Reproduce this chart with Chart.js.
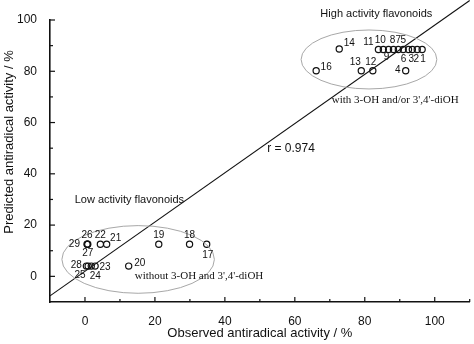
<!DOCTYPE html>
<html>
<head>
<meta charset="utf-8">
<script src="https://cdn.jsdelivr.net/npm/chart.js@4.4.1/dist/chart.umd.min.js"></script>
<style>
    html, body { margin: 0; padding: 0; background: #fff; }
    #chart { display: block; }
</style>
</head>
<body>
<canvas id="chart" width="474" height="344"></canvas>
<script>

// compound numbers with observed / predicted antiradical activity (%)
const compoundIds = [1, 2, 3, 4, 5, 6, 7, 8, 9, 10, 11, 12, 13, 14, 16,
                     17, 18, 19, 20, 21, 22, 23, 24, 25, 26, 27, 28, 29];
const observed = [96.4, 95.0, 93.6, 91.7, 91.0, 92.5, 89.6, 88.2, 86.8, 85.3, 83.9, 82.3, 79.0, 72.7, 66.1,
                  34.8, 29.9, 21.1, 12.5, 6.2, 4.4, 2.9, 1.8, 0.9, 0.6, 0.8, 0.4, 0.7];
const predicted = [88.5, 88.5, 88.5, 80.2, 88.5, 88.5, 88.5, 88.5, 88.5, 88.5, 88.5, 80.2, 80.2, 88.7, 80.2,
                   12.5, 12.5, 12.5, 4.0, 12.5, 12.5, 4.0, 4.0, 4.0, 12.5, 12.5, 4.0, 12.5];

// regression line end points
const fitX = [-10, 110];
const fitY = [-7.6, 107.6];

const xTickValues = [0, 20, 40, 60, 80, 100];
const yTickValues = [0, 20, 40, 60, 80, 100];

const xTitle = 'Observed antiradical activity / %';
const yTitle = 'Predicted antiradical activity / %';

// where each number label sits relative to its circle (px)
const labelOffsets = {
    1: [1, 10], 2: [-1, 10], 3: [-1, 10], 4: [-8, -1], 5: [0, -9], 6: [-5, 10], 7: [0, -9],
    8: [-1, -9], 9: [-2, 8], 10: [-3, -9], 11: [-10, -7], 12: [-2, -9], 13: [-6, -9],
    14: [10, -6], 16: [10, -4], 17: [1, 11], 18: [0, -9], 19: [0, -9], 20: [11, -3],
    21: [9, -6], 22: [0, -9], 23: [10, 1], 24: [4, 10], 25: [-8, 9], 26: [0, -9],
    27: [0, 9], 28: [-10, -1], 29: [-13, 0]
};

const groups = [
    { cx: 81.2, cy: 84.6, rx: 19.4, ry: 11.5 },
    { cx: 15.2, cy: 6.6, rx: 21.8, ry: 13.2 }
];

const notes = [
    { text: 'High activity flavonoids', x: 83.3, y: 102.4, font: '11px "Liberation Sans", Arial, sans-serif' },
    { text: "with 3-OH and/or 3',4'-diOH", x: 88.7, y: 68.9, font: '11px "Liberation Serif", "Times New Roman", serif' },
    { text: 'Low activity flavonoids', x: 12.7, y: 29.8, font: '11px "Liberation Sans", Arial, sans-serif' },
    { text: "without 3-OH and 3',4'-diOH", x: 32.6, y: 0.2, font: '11px "Liberation Serif", "Times New Roman", serif' },
    { text: 'r = 0.974', x: 58.9, y: 49.7, font: '12px "Liberation Sans", Arial, sans-serif' }
];

const sans = '"Liberation Sans", Arial, sans-serif';

const points = compoundIds.map((id, i) => ({ x: observed[i], y: predicted[i], id: id }));
const fitLine = fitX.map((x, i) => ({ x: x, y: fitY[i] }));

const data = {
    datasets: [
        {
            label: 'Flavonoids',
            type: 'scatter',
            data: points,
            borderColor: '#111',
            backgroundColor: 'rgba(255,255,255,0)',
            pointRadius: 3.1, pointBorderWidth: 1.2, pointHoverRadius: 3.1
        },
        {
            label: 'Fit',
            type: 'line',
            data: fitLine,
            borderColor: '#111',
            borderWidth: 1.1,
            pointRadius: 0,
            fill: false,
            clip: false
        }
    ]
};

const background = {
    id: 'background',
    beforeDraw: (chart) => {
        const ctx = chart.ctx;
        ctx.save();
        ctx.fillStyle = '#fff';
        ctx.fillRect(0, 0, chart.width, chart.height);
        ctx.restore();
    }
};

const decorations = {
    id: 'decorations',
    afterDatasetsDraw: (chart) => {
        const ctx = chart.ctx;
        const xs = chart.scales.x;
        const ys = chart.scales.y;
        const area = chart.chartArea;
        ctx.save();

        // inward tick marks
        ctx.strokeStyle = '#111';
        ctx.lineWidth = 1.2;
        for (let v = 0; v <= 110; v += 10) {
            const px = xs.getPixelForValue(v);
            const len = v % 20 === 0 ? 5 : 3;
            ctx.beginPath();
            ctx.moveTo(px, area.bottom);
            ctx.lineTo(px, area.bottom - len);
            ctx.stroke();
        }
        for (let v = 0; v <= 100; v += 10) {
            const py = ys.getPixelForValue(v);
            const len = v % 20 === 0 ? 5 : 3;
            ctx.beginPath();
            ctx.moveTo(area.left, py);
            ctx.lineTo(area.left + len, py);
            ctx.stroke();
        }

        // group ellipses
        ctx.strokeStyle = '#a8a8a8';
        ctx.lineWidth = 1;
        groups.forEach(g => {
            const cx = xs.getPixelForValue(g.cx);
            const cy = ys.getPixelForValue(g.cy);
            const rx = Math.abs(xs.getPixelForValue(g.cx + g.rx) - cx);
            const ry = Math.abs(ys.getPixelForValue(g.cy + g.ry) - cy);
            ctx.beginPath();
            ctx.ellipse(cx, cy, rx, ry, 0, 0, Math.PI * 2);
            ctx.stroke();
        });

        // compound numbers
        ctx.fillStyle = '#111';
        ctx.font = '10px ' + sans;
        ctx.textAlign = 'center';
        ctx.textBaseline = 'middle';
        const meta = chart.getDatasetMeta(0);
        meta.data.forEach((el, i) => {
            const id = points[i].id;
            const off = labelOffsets[id] || [0, -8];
            ctx.fillText(String(id), el.x + off[0], el.y + off[1]);
        });

        // notes
        notes.forEach(n => {
            ctx.font = n.font;
            ctx.fillText(n.text, xs.getPixelForValue(n.x), ys.getPixelForValue(n.y));
        });

        // y axis title
        ctx.font = '13px ' + sans;
        ctx.translate(9, 142);
        ctx.rotate(-Math.PI / 2);
        ctx.fillText(yTitle, 0, 0);

        ctx.restore();
    }
};

const config = {
    type: 'scatter',
    data: data,
    options: {
        responsive: false,
        animation: false,
        events: [],
        plugins: {
            legend: { display: false },
            tooltip: { enabled: false }
        },
        scales: {
            x: {
                type: 'linear',
                min: -10,
                max: 110,
                afterBuildTicks: (scale) => {
                    scale.ticks = xTickValues.map(v => ({ value: v }));
                },
                afterFit: (scale) => { scale.height = 42; },
                ticks: {
                    color: '#111',
                    padding: 4,
                    maxRotation: 0,
                    font: { family: sans, size: 12 }
                },
                grid: { display: false },
                border: { display: true, color: '#111', width: 1.6 },
                title: {
                    display: true,
                    text: xTitle,
                    color: '#111',
                    font: { family: sans, size: 13 },
                    padding: { top: 0, bottom: 3 }
                }
            },
            y: {
                type: 'linear',
                min: -10,
                max: 100,
                afterBuildTicks: (scale) => {
                    scale.ticks = yTickValues.map(v => ({ value: v }));
                },
                afterFit: (scale) => { scale.width = 50; },
                ticks: {
                    color: '#111',
                    padding: 5,
                    font: { family: sans, size: 12 }
                },
                grid: { display: false },
                border: { display: true, color: '#111', width: 1.6 }
            }
        },
        layout: {
            padding: { top: 20, right: 1, left: 0, bottom: 0 }
        }
    },
    plugins: [background, decorations]
};

let chart = new Chart(
    document.getElementById('chart'),
    config
);

</script>
</body>
</html>
